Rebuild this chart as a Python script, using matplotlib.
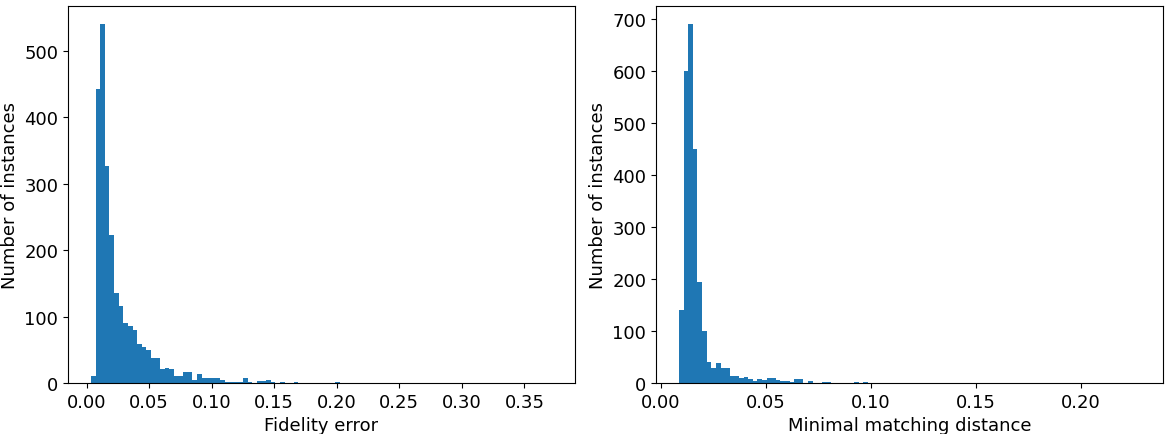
import numpy as np
import matplotlib
matplotlib.use("Agg")
import matplotlib.pyplot as plt

# Left: fidelity error histogram (100 bins over the data range)
fid_min, fid_max = 0.0035, 0.372
fid_counts = [10, 442, 540, 326, 223, 136, 116, 90, 85, 79,
              58, 54, 50, 38, 37, 21, 22, 21, 11, 10,
              17, 16, 5, 13, 8, 8, 8, 8, 5, 2,
              2, 2, 2, 7, 2, 0, 3, 3, 5, 2,
              0, 1, 0, 0, 1, 0, 0, 0, 0, 0,
              0, 0, 0, 1] + [0] * 46

# Right: minimal matching distance histogram (100 bins over the data range)
mmd_min, mmd_max = 0.0088, 0.2283
mmd_counts = [140, 600, 690, 450, 195, 99, 41, 29, 39, 28,
              28, 14, 14, 10, 12, 8, 4, 8, 6, 10,
              10, 6, 4, 4, 2, 8, 8, 0, 4, 0,
              0, 2, 2, 0, 0, 0, 0, 0, 2, 0,
              1] + [0] * 59

plt.rcParams['font.size'] = 13
fig = plt.figure(figsize=(11.71, 4.35), dpi=100)
ax1 = fig.add_axes([68/1171, 1-384/435, 507/1171, 377/435])
ax2 = fig.add_axes([656/1171, 1-384/435, 507/1171, 377/435])

for ax, lo, hi, counts, xlabel in [
    (ax1, fid_min, fid_max, fid_counts, "Fidelity error"),
    (ax2, mmd_min, mmd_max, mmd_counts, "Minimal matching distance"),
]:
    edges = np.linspace(lo, hi, len(counts) + 1)
    ax.bar(edges[:-1], counts, width=np.diff(edges), align='edge', color='#1f77b4', linewidth=0)
    r = hi - lo
    ax.set_xlim(lo - 0.05 * r, hi + 0.05 * r)
    ax.set_xlabel(xlabel)
    ax.set_ylabel("Number of instances")

ax1.set_xticks(np.arange(0, 0.36, 0.05))
ax1.set_yticks([0, 100, 200, 300, 400, 500])
ax2.set_xticks([0.0, 0.05, 0.10, 0.15, 0.20])
ax2.set_yticks(np.arange(0, 701, 100))

fig.savefig("out.png", dpi=100)
